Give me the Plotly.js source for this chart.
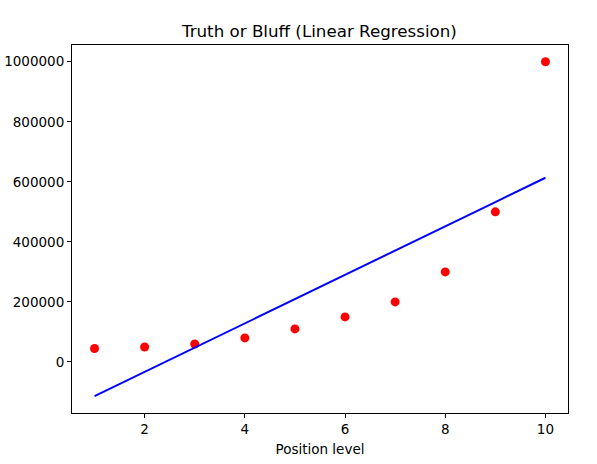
<!DOCTYPE html>
<html>
<head>
<meta charset="utf-8">
<script src="https://cdn.plot.ly/plotly-3.0.1.min.js"></script>
<style>
  html, body { margin: 0; padding: 0; background: #fff; }
  #chart { width: 597px; height: 464px; }
</style>
</head>
<body>
<div id="chart"></div>
<script>
    // --- DATA ---
    const positionLevels = [1, 2, 3, 4, 5, 6, 7, 8, 9, 10];
    const salaries = [45000, 50000, 60000, 80000, 110000, 150000, 200000, 300000, 500000, 1000000];
    // fitted line values
    const predicted = [-114000, -33500, 47300, 128200, 209000, 290000, 370800, 451700, 532600, 613500];
    const xTicks = [2, 4, 6, 8, 10];
    const yTicks = [0, 200000, 400000, 600000, 800000, 1000000];

    const font = 'DejaVu Sans, sans-serif';

    const traces = [
        {
            type: 'scatter',
            mode: 'markers',
            x: positionLevels,
            y: salaries,
            marker: { color: 'red', size: 9 },
            hoverinfo: 'x+y'
        },
        {
            type: 'scatter',
            mode: 'lines',
            x: positionLevels,
            y: predicted,
            line: { color: 'blue', width: 2 },
            hoverinfo: 'x+y'
        }
    ];

    const axisCommon = {
        showgrid: false,
        zeroline: false,
        showline: true,
        linecolor: '#000',
        linewidth: 1,
        mirror: true,
        ticks: 'outside',
        ticklen: 4,
        tickwidth: 1,
        tickcolor: '#000',
        tickfont: { family: font, size: 13.5, color: '#000' }
    };

    const layout = {
        width: 597,
        height: 464,
        margin: { l: 72, r: 29, t: 45, b: 51 },
        paper_bgcolor: '#fff',
        plot_bgcolor: '#fff',
        showlegend: false,
        title: {
            text: 'Truth or Bluff (Linear Regression)',
            font: { family: font, size: 16.7, color: '#000' },
            x: 0.535,
            xanchor: 'center',
            y: 0.933,
            yanchor: 'middle'
        },
        xaxis: Object.assign({}, axisCommon, {
            range: [0.55, 10.45],
            tickvals: xTicks,
            ticktext: xTicks.map(String),
            title: { text: 'Position level', font: { family: font, size: 13.5, color: '#000' }, standoff: 8 }
        }),
        yaxis: Object.assign({}, axisCommon, {
            range: [-170000, 1055700],
            tickvals: yTicks,
            ticktext: yTicks.map(String)
        })
    };

    Plotly.newPlot('chart', traces, layout, { displayModeBar: false, staticPlot: true });
</script>
</body>
</html>
